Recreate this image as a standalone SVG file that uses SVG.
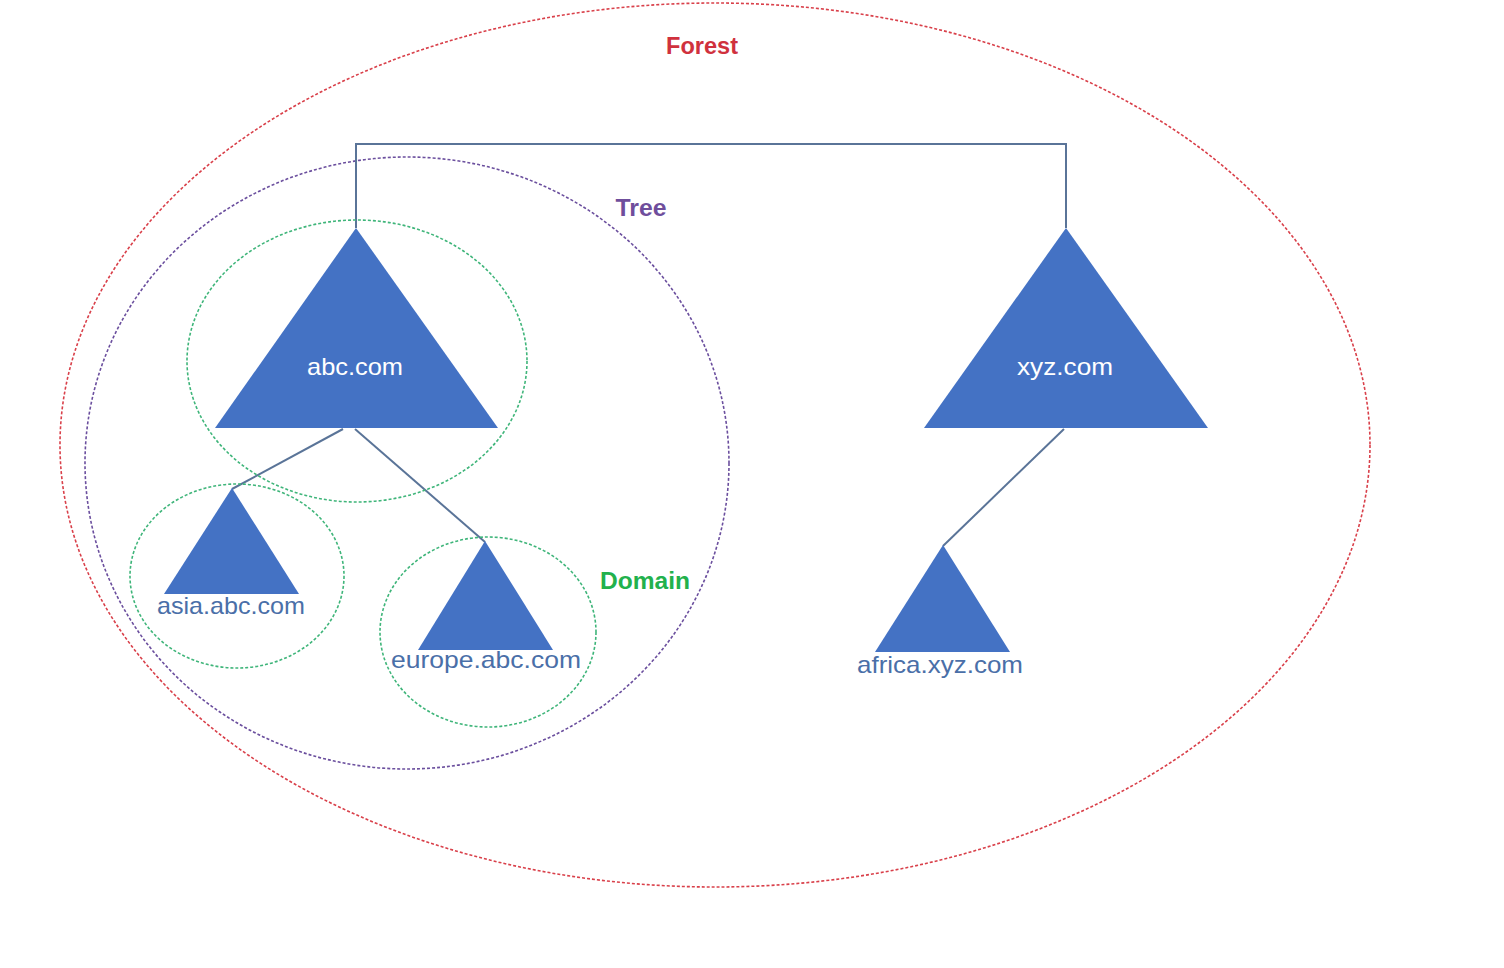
<svg xmlns="http://www.w3.org/2000/svg" width="1504" height="968" viewBox="0 0 1504 968">
<style>
.bound{fill:none;stroke-width:1.6;stroke-dasharray:3 2}
.forest{stroke:#d9404a}
.tree{stroke:#6b4f9e}
.dom{stroke:#3fb57a}
.tri{fill:#4472c4}
.conn{fill:none;stroke:#5a7498;stroke-width:2}
.in{font-family:"Liberation Sans",Arial,sans-serif;font-size:24px;fill:#ffffff;text-anchor:middle}
.out{font-family:"Liberation Sans",Arial,sans-serif;font-size:24px;fill:#4a6fa8;text-anchor:middle}
.cap{font-family:"Liberation Sans",Arial,sans-serif;font-size:23px;font-weight:bold;text-anchor:middle}
</style>
<rect width="1504" height="968" fill="#ffffff"/>
<g id="forest">
<ellipse class="bound forest" cx="715" cy="445" rx="655" ry="442"/>
<text class="cap" x="702" y="54" fill="#d0313d" textLength="72" lengthAdjust="spacingAndGlyphs">Forest</text>
</g>
<g id="tree">
<ellipse class="bound tree" cx="407" cy="463" rx="322" ry="306"/>
<text class="cap" x="641" y="216" fill="#6f4e9c" textLength="51" lengthAdjust="spacingAndGlyphs">Tree</text>
</g>
<g id="connectors">
<polyline class="conn" points="356,228 356,144 1066,144 1066,228"/>
<line class="conn" x1="343" y1="429" x2="232" y2="489"/>
<line class="conn" x1="355" y1="429" x2="485" y2="542"/>
<line class="conn" x1="1064" y1="429" x2="943" y2="546"/>
</g>
<g id="abc">
<ellipse class="bound dom" cx="357" cy="361" rx="170" ry="141"/>
<polygon class="tri" points="356,228 498,428 215,428"/>
<text class="in" x="355" y="375" textLength="96" lengthAdjust="spacingAndGlyphs">abc.com</text>
</g>
<g id="asia">
<ellipse class="bound dom" cx="237" cy="576" rx="107" ry="92"/>
<polygon class="tri" points="232,488 299,594 164,594"/>
<text class="out" x="231" y="614" textLength="148" lengthAdjust="spacingAndGlyphs">asia.abc.com</text>
</g>
<g id="europe">
<ellipse class="bound dom" cx="488" cy="632" rx="108" ry="95"/>
<polygon class="tri" points="485,541 553,650 418,650"/>
<text class="out" x="486" y="668" textLength="190" lengthAdjust="spacingAndGlyphs">europe.abc.com</text>
</g>
<g id="domain-label">
<text class="cap" x="645" y="589" fill="#22b14c" textLength="90" lengthAdjust="spacingAndGlyphs">Domain</text>
</g>
<g id="xyz">
<polygon class="tri" points="1066,228 1208,428 924,428"/>
<text class="in" x="1065" y="375" textLength="96" lengthAdjust="spacingAndGlyphs">xyz.com</text>
</g>
<g id="africa">
<polygon class="tri" points="943,545 1010,652 875,652"/>
<text class="out" x="940" y="673" textLength="166" lengthAdjust="spacingAndGlyphs">africa.xyz.com</text>
</g>
</svg>
